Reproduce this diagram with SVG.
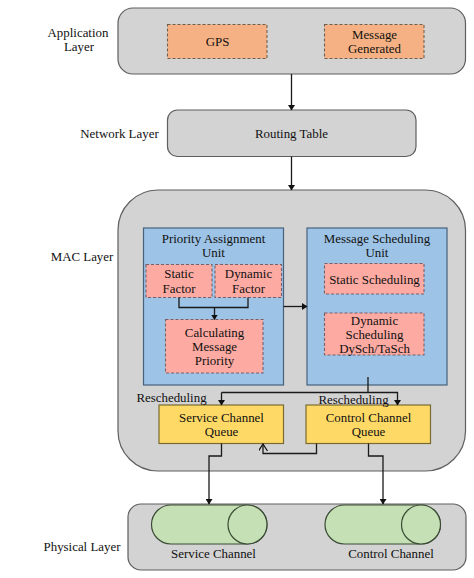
<svg xmlns="http://www.w3.org/2000/svg" width="474" height="578" viewBox="0 0 474 578">
<defs>
<marker id="a" markerWidth="6" markerHeight="7" refX="5" refY="3.5" orient="auto" markerUnits="userSpaceOnUse"><path d="M0 0L5.500 3.500L0 7Z" fill="#111"/></marker>
<marker id="o" markerWidth="8" markerHeight="10" refX="7" refY="4.500" orient="auto" markerUnits="userSpaceOnUse"><path d="M0 0L7 4.500L0 9" fill="none" stroke="#111" stroke-width="1.200"/></marker>
</defs>
<style>
text{font-family:"Liberation Serif","Times New Roman",serif;font-size:12.900px;fill:#111;text-anchor:middle}
.g{fill:#d3d3d3;stroke:#5f5f5f;stroke-width:1.200}
.o{fill:#f5b183;stroke:#6f5f50;stroke-width:1.100;stroke-dasharray:3 2}
.p{fill:#fdaaa2;stroke:#77606a;stroke-width:1.100;stroke-dasharray:3 2}
.b{fill:#9dc3e6;stroke:#46627c;stroke-width:1.200}
.y{fill:#ffd966;stroke:#7a6a30;stroke-width:1.200}
.c{fill:#c5e0b4;stroke:#3a4a35;stroke-width:1.200}
.l{fill:none;stroke:#1a1a1a;stroke-width:1.300}
</style>
<g id="application-layer"><rect class="g" x="118" y="8" width="347.500" height="66" rx="15"/><text x="78" y="37">Application</text><text x="79" y="51">Layer</text></g>
<g id="gps"><rect class="o" x="167.500" y="24.500" width="99.500" height="34"/><text x="217.500" y="46">GPS</text></g>
<g id="message-generated"><rect class="o" x="324.500" y="24.500" width="99.500" height="34"/><text x="374.500" y="39">Message</text><text x="374.500" y="53">Generated</text></g>
<g id="network-layer"><text x="119.500" y="138">Network Layer</text><rect class="g" x="167.500" y="110" width="248.500" height="46.500" rx="10"/><text x="291.500" y="138">Routing Table</text></g>
<g id="mac-layer"><rect class="g" x="118" y="190" width="347.500" height="281" rx="40"/><text x="82" y="261">MAC Layer</text></g>
<g id="priority-unit"><rect class="b" x="143.500" y="228" width="140" height="157"/><text x="213.500" y="243">Priority Assignment</text><text x="213.500" y="257">Unit</text></g>
<g id="static-factor"><rect class="p" x="146" y="264.500" width="66" height="33"/><text x="179" y="278">Static</text><text x="179" y="293">Factor</text></g>
<g id="dynamic-factor"><rect class="p" x="215" y="264.500" width="66.500" height="33"/><text x="248.500" y="278">Dynamic</text><text x="248.500" y="293">Factor</text></g>
<g id="calculating-priority"><rect class="p" x="165.500" y="319.500" width="97.500" height="53.500"/><text x="214.500" y="337">Calculating</text><text x="214.500" y="351">Message</text><text x="214.500" y="365">Priority</text></g>
<g id="scheduling-unit"><rect class="b" x="307" y="228" width="140" height="157"/><text x="377" y="243">Message Scheduling</text><text x="377" y="257">Unit</text></g>
<g id="static-scheduling"><rect class="p" x="324.500" y="263.500" width="99.500" height="30.500"/><text x="374.500" y="284">Static Scheduling</text></g>
<g id="dynamic-scheduling"><rect class="p" x="324.500" y="313" width="99.500" height="42"/><text x="374.500" y="325">Dynamic</text><text x="374.500" y="339">Scheduling</text><text x="374.500" y="353">DySch/TaSch</text></g>
<g id="service-queue"><rect class="y" x="159" y="405" width="124.500" height="38.500"/><text x="221.500" y="422">Service Channel</text><text x="221.500" y="436">Queue</text></g>
<g id="control-queue"><rect class="y" x="306" y="405" width="124.500" height="38.500"/><text x="368.500" y="422">Control Channel</text><text x="368.500" y="436">Queue</text></g>
<g id="physical-layer"><rect class="g" x="128" y="504" width="338" height="66" rx="13"/><text x="82" y="551">Physical Layer</text></g>
<g id="service-channel"><path class="c" d="M171 505H247.500A19.500 19.500 0 0 1 247.500 544H171A19.500 19.500 0 0 1 171 505Z"/><circle class="c" cx="247.500" cy="524.500" r="19.500"/><text x="213.500" y="558">Service Channel</text></g>
<g id="control-channel"><path class="c" d="M344.500 505H421A19.500 19.500 0 0 1 421 544H344.500A19.500 19.500 0 0 1 344.500 505Z"/><circle class="c" cx="421" cy="524.500" r="19.500"/><text x="391" y="558">Control Channel</text></g>
<g id="labels"><text x="171.500" y="402">Rescheduling</text><text x="353.500" y="404">Rescheduling</text></g>
<g id="connectors">
<path class="l" marker-end="url(#a)" d="M291.500 74V110"/>
<path class="l" marker-end="url(#a)" d="M291.500 156.500V190"/>
<path class="l" d="M179 297.500V307.500H248V297.500"/>
<path class="l" marker-end="url(#a)" d="M214.500 307.500V319.500"/>
<path class="l" marker-end="url(#a)" d="M283.500 306.500H307"/>
<path class="l" d="M368 377V392.500"/>
<path class="l" marker-end="url(#a)" d="M221.500 392.500H397.500V405"/>
<path class="l" marker-end="url(#a)" d="M221.500 392.500V405"/>
<path class="l" marker-end="url(#a)" d="M221.500 443.500V456H209V504"/>
<path class="l" marker-end="url(#a)" d="M368.500 443.500V456H383V504"/>
<path class="l" marker-end="url(#o)" d="M316.500 443.500V453.500H263V444"/>
</g>
</svg>
